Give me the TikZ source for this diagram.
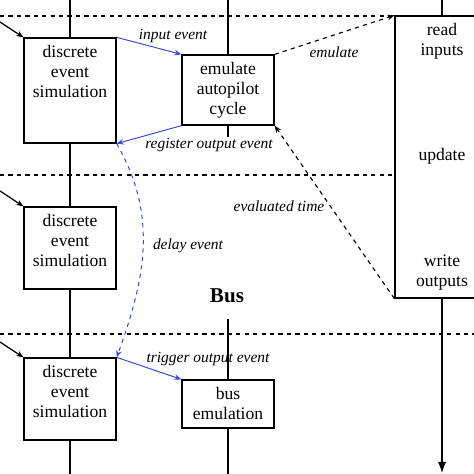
\documentclass[tikz,border=0pt]{standalone}
\usepackage{fontspec}
\setmainfont{Liberation Serif}
\usepackage{tikz}
\usetikzlibrary{arrows.meta}
\usepackage{color}
\definecolor{evblue}{RGB}{55,75,215}
\newcommand{\boxtxt}[2]{\parbox[c][#1][t]{2.3cm}{\centering\vspace{5.5pt}#2}}
\tikzset{
	simbox/.style={draw,line width=0.9pt,inner sep=0pt,fill=white},
	boxfont/.style={font=\fontsize{12.5}{14.2}\selectfont},
	evlabel/.style={font=\fontsize{11}{13}\selectfont\itshape,inner sep=1pt},
	timeline/.style={line width=0.9pt},
	phase/.style={dashed,line width=0.8pt},
	tip/.style={-{Stealth[length=5pt,width=4pt]}},
	blueev/.style={evblue,line width=0.7pt,tip}
}

\begin{document}
\begin{tikzpicture}[x=0.025cm,y=-0.025cm]
	\useasboundingbox (0,0) rectangle (474,474);
	% phases
	\draw[phase] (0,16) -- (395,16);
	\draw[phase] (0,175) -- (395,175);
	\draw[phase] (0,334) -- (474,334);
	% boxes
	\node[simbox,boxfont] (des1) at (70,90.5) {\boxtxt{2.625cm}{discrete\\event\\simulation}};
	\node[simbox,boxfont] (des2) at (70,248) {\boxtxt{2.05cm}{discrete\\event\\simulation}};
	\node[simbox,boxfont] (des3) at (70,399) {\boxtxt{2.05cm}{discrete\\event\\simulation}};
	\node[simbox,boxfont] (autop) at (228,90) {\boxtxt{1.75cm}{emulate\\autopilot\\cycle}};
	\node[simbox,boxfont] (busemu) at (228,404) {\boxtxt{1.2cm}{bus\\emulation}};
	\node[simbox,fill=none,minimum width=2.35cm,minimum height=7.05cm] (cycle) at (442,157) {};
	\node[boxfont,align=center] (rdin) at (442,41) {read\\inputs};
	\node[boxfont] (upd) at (442,156) {update};
	\node[boxfont,align=center] (wrout) at (442,273) {write\\outputs};
	\node[font=\fontsize{15}{18}\selectfont\bfseries] (buslab) at (227,296) {Bus};
	% time lines
	\coordinate (ltop) at (70,0);
	\coordinate (lbot) at (70,474);
	\coordinate (mtop) at (228,0);
	\coordinate (mreg) at (228,137);
	\coordinate (mbus) at (228,319);
	\coordinate (mbot) at (228,474);
	\coordinate (rtop) at (442,0);
	\coordinate (rbot) at (442,473);
	\draw[timeline] (ltop) -- (des1.north);
	\draw[timeline] (des1.south) -- (des2.north);
	\draw[timeline] (des2.south) -- (des3.north);
	\draw[timeline] (des3.south) -- (lbot);
	\draw[timeline] (mtop) -- (autop.north);
	\draw[timeline] (autop.south) -- (mreg);
	\draw[timeline] (mbus) -- (busemu.north);
	\draw[timeline] (busemu.south) -- (mbot);
	\draw[timeline] (rtop) -- (cycle.north);
	\draw[timeline,-{Latex[length=8pt,width=6pt]}] (cycle.south) -- (rbot);
	% incoming
	\coordinate (in1) at (0,22);
	\coordinate (in2) at (0,191);
	\coordinate (in3) at (0,342);
	\draw[timeline,tip] (in1) -- (des1.north west);
	\draw[timeline,tip] (in2) -- (des2.north west);
	\draw[timeline,tip] (in3) -- (des3.north west);
	% events
	\draw[blueev] (des1.north east) -- (autop.north west);
	\draw[blueev] (autop.south west) -- (des1.south east);
	\draw[blueev,dashed] (des1.south east) to[out=-60,in=70] (des3.north east);
	\draw[blueev] (des3.north east) -- (busemu.north west);
	\draw[phase,tip] (autop.north east) -- (cycle.north west);
	\draw[phase,tip] (cycle.south west) -- (autop.south east);
	\node[evlabel] (inev) at (173,36) {input event};
	\node[evlabel] (regev) at (209,145) {register output event};
	\node[evlabel] (delev) at (188,246) {delay event};
	\node[evlabel] (emu) at (334,52) {emulate};
	\node[evlabel] (evtime) at (279,206) {evaluated time};
	\node[evlabel] (trigev) at (208,359) {trigger output event};
\end{tikzpicture}
\end{document}
